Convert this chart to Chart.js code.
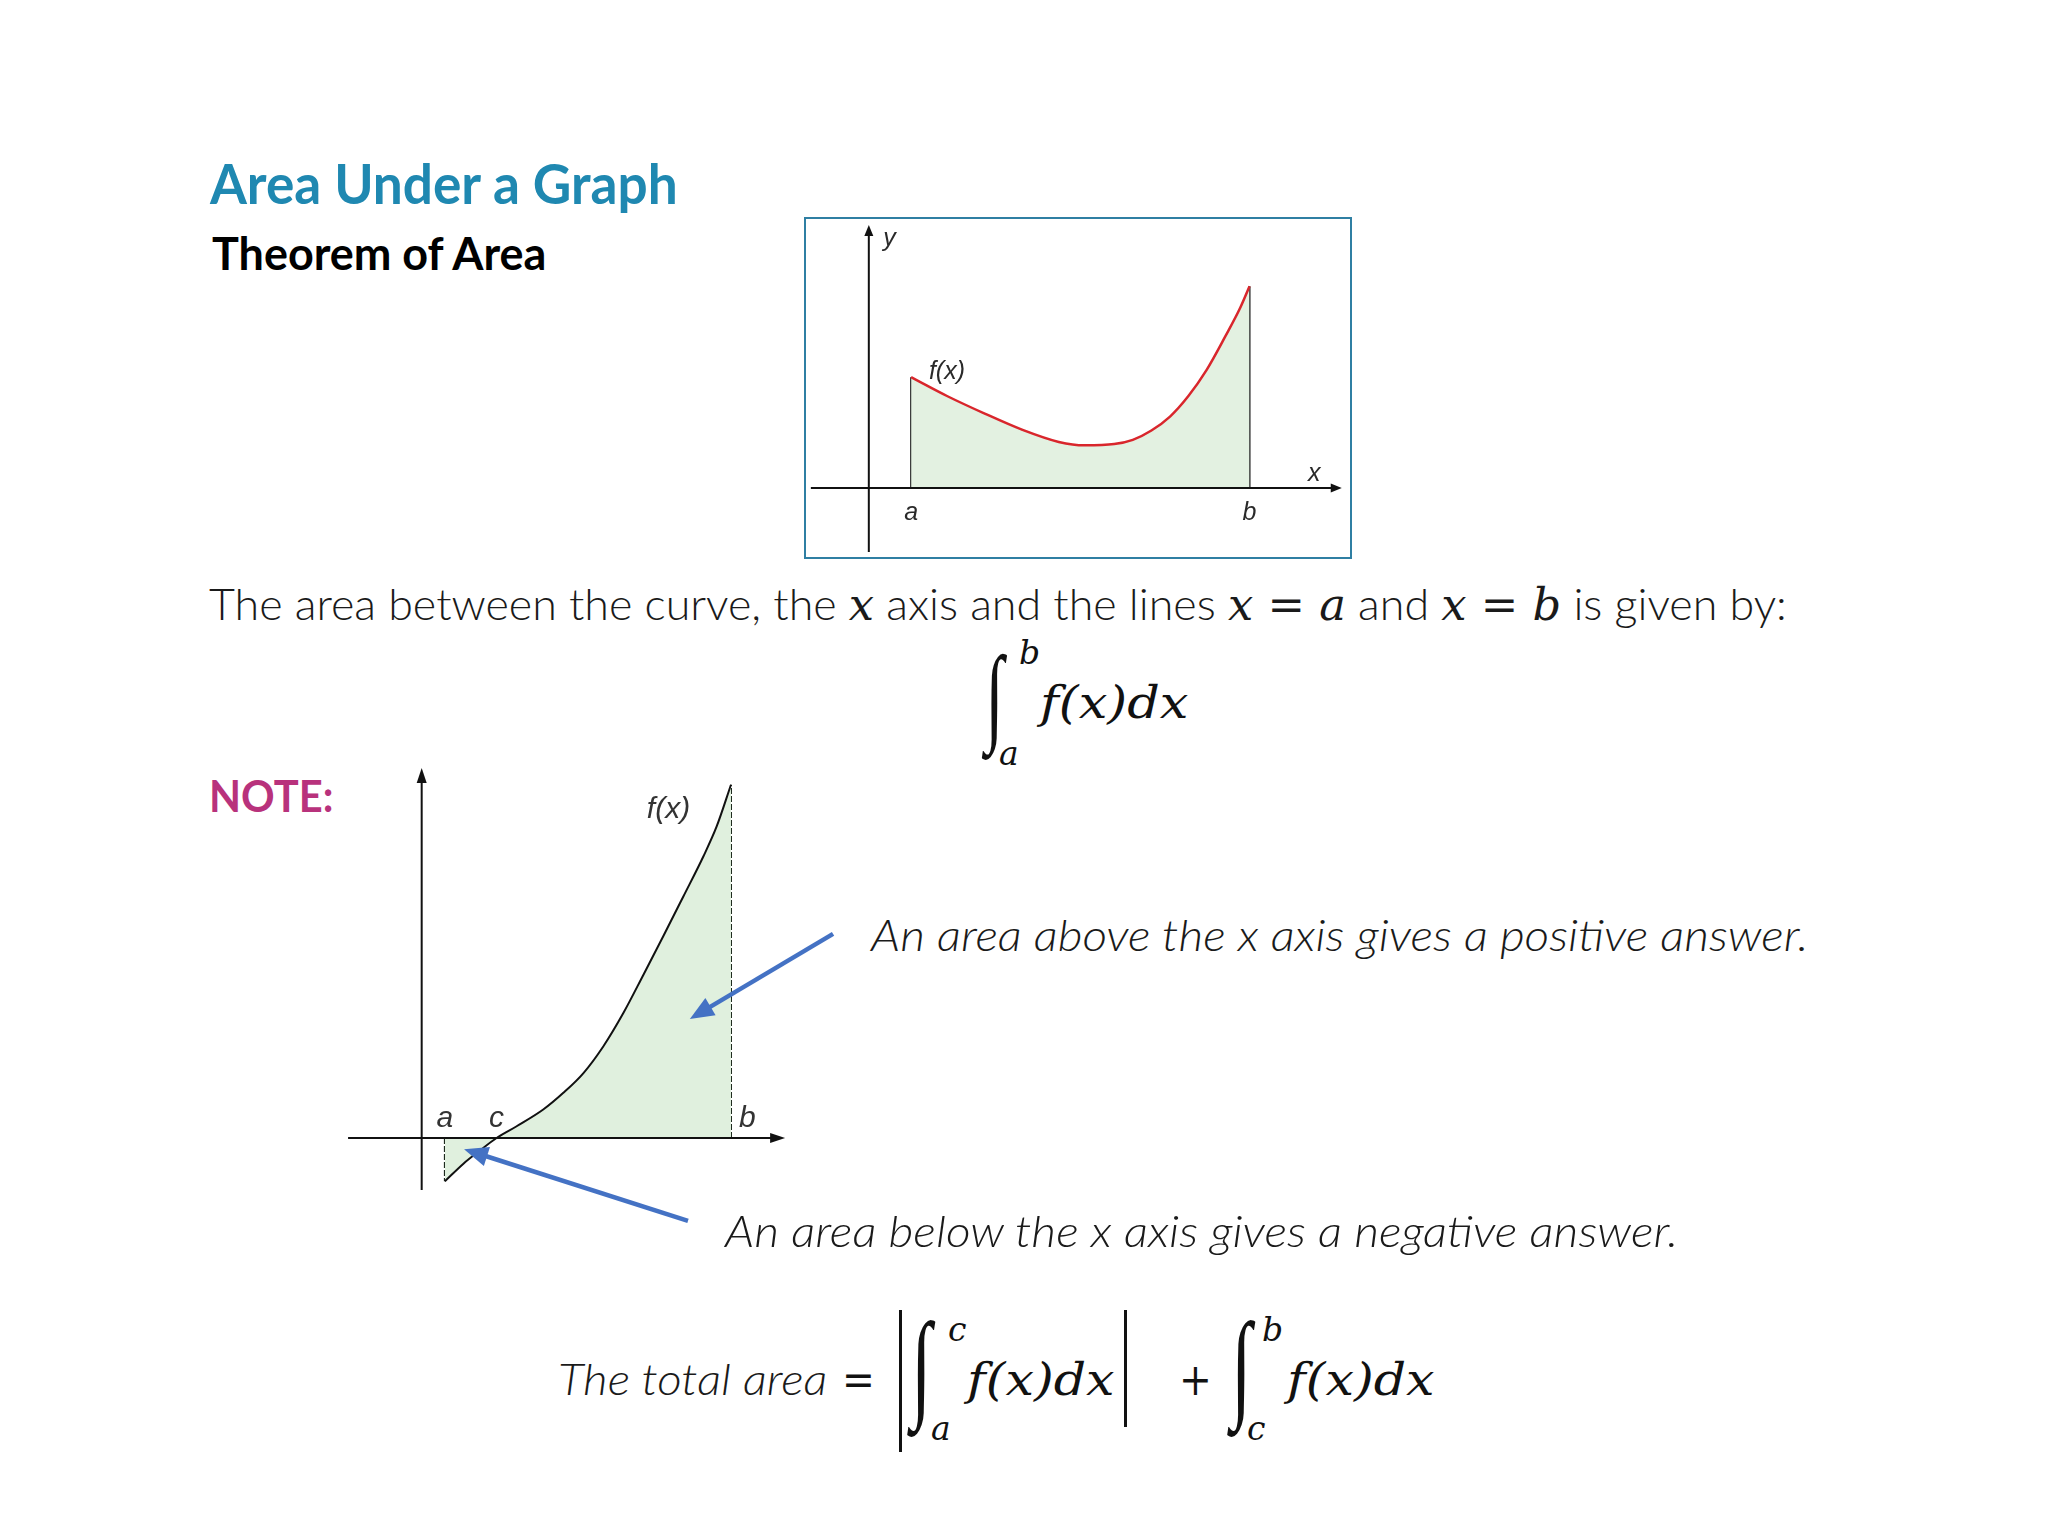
<!DOCTYPE html>
<html>
<head>
<meta charset="utf-8">
<script src="https://cdn.jsdelivr.net/npm/chart.js@4.4.1/dist/chart.umd.min.js"></script>
<style>
html, body { margin: 0; padding: 0; background: #fff; }
body { width: 2048px; height: 1536px; position: relative; overflow: hidden; }
.t { position: absolute; white-space: pre; transform-origin: 0 0; }
.m { font-family: "DejaVu Serif"; font-style: italic; font-weight: 400; line-height: 0; }
.u { font-family: "DejaVu Serif"; font-style: normal; font-weight: 400; line-height: 0; }
#box1 { position: absolute; left: 804px; top: 217px; width: 548px; height: 342px; border: 2px solid #2f7fa3; box-sizing: border-box; }
#box1 canvas { display: block; }
#c2 { position: absolute; left: 340px; top: 760px; }
.bar { position: absolute; background: #111; width: 3px; }
</style>
</head>
<body>
<div id="box1"><canvas id="c1" width="544" height="338"></canvas></div>
<canvas id="c2" width="510" height="480"></canvas>
<script>
// graph 1: f(x) between a and b, all above the axis
const curve1X = [1.0, 1.86, 2.74, 3.62, 4.49, 5.10, 5.80, 6.24, 6.68, 7.12, 7.55, 7.99, 8.43, 8.78, 9.0];
const curve1Y = [2.62, 2.17, 1.76, 1.38, 1.09, 1.01, 1.04, 1.14, 1.36, 1.69, 2.17, 2.80, 3.59, 4.26, 4.77];
const marks1 = [1.0, 9.0];
const markNames1 = ['a', 'b'];

// graph 2: f(x) crosses the axis at c
const curve2X = [0.75, 1.35, 1.89, 2.42, 3.07, 3.93, 4.58, 5.23, 5.87, 6.52, 7.17, 7.81, 8.46, 9.11, 9.54, 10.0];
const curve2Y = [-1.40, -0.83, -0.40, 0, 0.38, 0.92, 1.46, 2.10, 2.96, 4.04, 5.28, 6.52, 7.81, 9.11, 10.08, 11.42];
const marks2 = [0.75, 2.42, 10.0];
const markNames2 = ['a', 'c', 'b'];

const pts = (xs, ys) => xs.map((x, i) => ({ x, y: ys[i] }));

const arrowAxes = {
  id: 'arrowAxes',
  afterDatasetsDraw(chart, args, o) {
    const ctx = chart.ctx;
    const sx = chart.scales.x, sy = chart.scales.y;
    const px = v => sx.getPixelForValue(v), py = v => sy.getPixelForValue(v);
    const arrow = (x1, y1, x2, y2, len, half) => {
      const ang = Math.atan2(y2 - y1, x2 - x1);
      const c = Math.cos(ang), s = Math.sin(ang);
      ctx.beginPath();
      ctx.moveTo(x1, y1);
      ctx.lineTo(x2 - len * 0.7 * c, y2 - len * 0.7 * s);
      ctx.stroke();
      ctx.beginPath();
      ctx.moveTo(x2, y2);
      ctx.lineTo(x2 - len * c + half * s, y2 - len * s - half * c);
      ctx.lineTo(x2 - len * c - half * s, y2 - len * s + half * c);
      ctx.closePath();
      ctx.fill();
    };
    ctx.save();
    ctx.strokeStyle = o.axisColor;
    ctx.fillStyle = o.axisColor;
    ctx.lineWidth = o.axisWidth;
    arrow(px(o.xAxis[0]), py(0), px(o.xAxis[1]), py(0), o.head[0], o.head[1]);
    arrow(px(0), py(o.yAxis[0]), px(0), py(o.yAxis[1]), o.head[0], o.head[1]);
    ctx.fillStyle = o.labelColor;
    ctx.font = o.labelFont;
    ctx.textBaseline = 'alphabetic';
    o.labels.forEach(l => {
      ctx.textAlign = l.align || 'left';
      ctx.fillText(l.text, px(l.x), py(l.y));
    });
    (o.callouts || []).forEach(c => {
      ctx.strokeStyle = o.calloutColor;
      ctx.fillStyle = o.calloutColor;
      ctx.lineWidth = o.calloutWidth;
      ctx.lineCap = 'butt';
      arrow(px(c.from[0]), py(c.from[1]), px(c.to[0]), py(c.to[1]), o.calloutHead[0], o.calloutHead[1]);
    });
    ctx.restore();
  }
};

function baseOptions(xr, yr, extra) {
  return {
    responsive: false,
    animation: false,
    events: [],
    layout: { padding: 0 },
    scales: {
      x: { type: 'linear', min: xr[0], max: xr[1], display: false },
      y: { type: 'linear', min: yr[0], max: yr[1], display: false }
    },
    plugins: { legend: { display: false }, tooltip: { enabled: false }, arrowAxes: extra }
  };
}

// top graph
new Chart(document.getElementById('c1'), {
  type: 'scatter',
  data: {
    datasets: [
      {
        data: pts(curve1X, curve1Y), showLine: true, pointRadius: 0,
        borderColor: '#d9262c', borderWidth: 2.5, cubicInterpolationMode: 'monotone',
        fill: 'origin', backgroundColor: '#e3f1e1'
      },
      ...marks1.map(m => ({
        data: [{ x: m, y: 0 }, { x: m, y: curve1Y[curve1X.indexOf(m)] }],
        showLine: true, pointRadius: 0, borderColor: '#222', borderWidth: 2, fill: false
      }))
    ]
  },
  options: baseOptions([-1.485, 11.375], [-1.63, 6.36], {
    axisColor: '#111', axisWidth: 2, head: [11, 4.5],
    xAxis: [-1.37, 11.18], yAxis: [-1.51, 6.22],
    labelColor: '#2a2a2a', labelFont: 'italic 25px "Liberation Sans"',
    labels: [
      { text: 'y', x: 0.34, y: 5.72 },
      { text: 'x', x: 10.38, y: 0.16 },
      { text: 'f(x)', x: 1.42, y: 2.57 },
      ...marks1.map((m, i) => ({ text: markNames1[i], x: m, y: -0.76, align: 'center' }))
    ]
  }),
  plugins: [arrowAxes]
});

// note graph
new Chart(document.getElementById('c2'), {
  type: 'scatter',
  data: {
    datasets: [
      {
        data: pts(curve2X, curve2Y), showLine: true, pointRadius: 0,
        borderColor: '#111', borderWidth: 2, cubicInterpolationMode: 'monotone',
        fill: 'origin', backgroundColor: '#e0f0de'
      },
      ...[marks2[0], marks2[2]].map(m => ({
        data: [{ x: m, y: 0 }, { x: m, y: curve2Y[curve2X.indexOf(m)] }],
        showLine: true, pointRadius: 0, borderColor: '#1d2a1d', borderWidth: 2,
        borderDash: [6, 2], fill: false
      }))
    ]
  },
  options: baseOptions([-2.641, 13.848], [-3.298, 12.221], {
    axisColor: '#111', axisWidth: 2, head: [15, 5],
    xAxis: [-2.38, 11.75], yAxis: [-1.68, 11.96],
    labelColor: '#333', labelFont: 'italic 30px "Liberation Sans"',
    labels: [
      { text: 'f(x)', x: 7.28, y: 10.35 },
      { text: markNames2[0], x: marks2[0], y: 0.36, align: 'center' },
      { text: markNames2[1], x: marks2[1], y: 0.36, align: 'center' },
      { text: markNames2[2], x: marks2[2] + 0.26, y: 0.36 }
    ],
    calloutColor: '#4472c4', calloutWidth: 4.5, calloutHead: [24, 10],
    callouts: [
      { from: [13.30, 6.60], to: [8.67, 3.85] },
      { from: [8.61, -2.68], to: [1.37, -0.36] }
    ]
  }),
  plugins: [arrowAxes]
});

// slide text
function put(html, x, base, font, color, width) {
  const d = document.createElement('div');
  d.className = 't';
  d.innerHTML = html;
  d.style.font = font;
  d.style.lineHeight = '1';
  d.style.color = color;
  d.style.left = x + 'px';
  d.style.top = '0px';
  document.body.appendChild(d);
  const probe = document.createElement('span');
  probe.style.cssText = 'display:inline-block;width:0;height:0;vertical-align:baseline';
  d.appendChild(probe);
  const off = probe.offsetTop;
  d.removeChild(probe);
  d.style.top = (base - off) + 'px';
  if (width) d.style.transform = 'scaleX(' + (width / d.offsetWidth).toFixed(4) + ')';
  return d;
}

// integral sign fitted to an ink box; its text box ends at boxRight so the limits sit clear of it
const meas = document.createElement('canvas').getContext('2d');
function glyph(ch, left, right, top, bottom, font, boxRight) {
  meas.font = font.replace('{s}', '100px');
  const m = meas.measureText(ch);
  const h = m.actualBoundingBoxAscent + m.actualBoundingBoxDescent;
  const k = (bottom - top) / h;
  const inkL = m.actualBoundingBoxLeft * k;
  const sx = (right - left) / ((m.actualBoundingBoxLeft + m.actualBoundingBoxRight) * k);
  const x = left + inkL;
  const d = put(ch, x, top + m.actualBoundingBoxAscent * k,
    font.replace('{s}', (100 * k).toFixed(1) + 'px'), '#111', null);
  d.style.letterSpacing = ((boxRight - x) / sx - d.offsetWidth) + 'px';
  d.style.transformOrigin = (-inkL) + 'px 0';
  d.style.transform = 'scaleX(' + sx.toFixed(4) + ')';
  return d;
}

function bar(x, top, bottom) {
  const b = document.createElement('div');
  b.className = 'bar';
  b.style.left = x + 'px';
  b.style.top = top + 'px';
  b.style.height = (bottom - top) + 'px';
  document.body.appendChild(b);
}

const mathFont = 'italic 44px "DejaVu Serif"';
const limFont = 'italic 33px "DejaVu Serif"';
const intFont = 'italic {s} "Liberation Serif"';
const noteFont = 'italic 300 44px Lato';

put('Area Under a Graph', 210, 204, '700 56px Lato', '#1f88b1', 468);
put('Theorem of Area', 212, 270, '700 46px Lato', '#000', 334);
put('The area between the curve, the <span class="m">x</span> axis and the lines ' +
    '<span class="m">x</span><span class="u"> = </span><span class="m">a</span> and ' +
    '<span class="m">x</span><span class="u"> = </span><span class="m">b</span> is given by:',
    209, 620, '300 44px Lato', '#1a1a1a', 1578);

glyph('∫', 982, 1008, 653, 760, intFont, 997);
put('b', 1019, 664, limFont, '#111');
put('a', 999, 765, limFont, '#111');
put('f(x)dx', 1040, 718, mathFont, '#111', 148);

put('NOTE:', 209, 812, '700 44px Lato', '#b8327c', 124);
put('An area above the x axis gives a positive answer.', 871, 951, noteFont, '#1a1a1a', 938);
put('An area below the x axis gives a negative answer.', 725, 1247, noteFont, '#1a1a1a', 953);

put('The total area', 558, 1395, noteFont, '#1a1a1a', 269);
put('=', 842, 1395, '44px "DejaVu Serif"', '#111', 33);
bar(899, 1310, 1452);
glyph('∫', 907, 936, 1319, 1437, intFont, 928);
put('c', 948, 1341, limFont, '#111');
put('a', 931, 1440, limFont, '#111');
put('f(x)dx', 967, 1395, mathFont, '#111', 147);
bar(1124, 1310, 1427);
put('+', 1179, 1395, '44px "DejaVu Serif"', '#111', 33);
glyph('∫', 1227, 1256, 1319, 1437, intFont, 1244);
put('b', 1262, 1341, limFont, '#111');
put('c', 1247, 1440, limFont, '#111');
put('f(x)dx', 1287, 1395, mathFont, '#111', 147);
</script>
</body>
</html>
